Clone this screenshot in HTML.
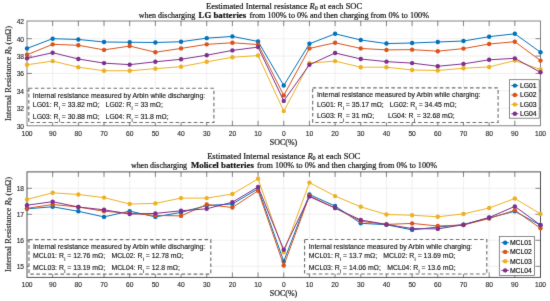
<!DOCTYPE html>
<html><head><meta charset="utf-8"><title>Estimated internal resistance</title>
<style>
html,body{margin:0;padding:0;background:#fff;}
svg{display:block;}
.tk{font-family:'Liberation Sans',sans-serif;font-size:6.7px;fill:#2a2a2a;stroke:#2a2a2a;stroke-width:0.13px;}
.an{font-family:'Liberation Sans',sans-serif;font-size:6.9px;fill:#151515;stroke:#151515;stroke-width:0.13px;}
.sub{font-size:5.3px;stroke-width:0.1px;}
.lg{font-family:'Liberation Sans',sans-serif;font-size:6.8px;fill:#0a0a0a;stroke:#0a0a0a;stroke-width:0.15px;}
.tt{font-family:'Liberation Serif',serif;font-size:7.3px;fill:#101010;stroke:#101010;stroke-width:0.17px;}
.yl{font-family:'Liberation Serif',serif;font-size:7.5px;fill:#222;stroke:#222;stroke-width:0.14px;}
</style></head><body>
<svg width="550" height="301" viewBox="0 0 550 301">
<defs><filter id="soft" x="0" y="0" width="550" height="301" filterUnits="userSpaceOnUse" color-interpolation-filters="sRGB"><feConvolveMatrix order="3" kernelMatrix="0.01 0.07 0.01 0.07 0.68 0.07 0.01 0.07 0.01" edgeMode="duplicate" preserveAlpha="true"/></filter></defs>
<rect width="550" height="301" fill="#fff"/>
<g filter="url(#soft)">
<rect width="550" height="301" fill="#fff"/>
<line x1="52.67" y1="21.0" x2="52.67" y2="125.8" stroke="#e6e6e6" stroke-width="0.6"/>
<line x1="78.35" y1="21.0" x2="78.35" y2="125.8" stroke="#e6e6e6" stroke-width="0.6"/>
<line x1="104.03" y1="21.0" x2="104.03" y2="125.8" stroke="#e6e6e6" stroke-width="0.6"/>
<line x1="129.70" y1="21.0" x2="129.70" y2="125.8" stroke="#e6e6e6" stroke-width="0.6"/>
<line x1="155.38" y1="21.0" x2="155.38" y2="125.8" stroke="#e6e6e6" stroke-width="0.6"/>
<line x1="181.05" y1="21.0" x2="181.05" y2="125.8" stroke="#e6e6e6" stroke-width="0.6"/>
<line x1="206.72" y1="21.0" x2="206.72" y2="125.8" stroke="#e6e6e6" stroke-width="0.6"/>
<line x1="232.40" y1="21.0" x2="232.40" y2="125.8" stroke="#e6e6e6" stroke-width="0.6"/>
<line x1="258.07" y1="21.0" x2="258.07" y2="125.8" stroke="#e6e6e6" stroke-width="0.6"/>
<line x1="283.75" y1="21.0" x2="283.75" y2="125.8" stroke="#e6e6e6" stroke-width="0.6"/>
<line x1="309.43" y1="21.0" x2="309.43" y2="125.8" stroke="#e6e6e6" stroke-width="0.6"/>
<line x1="335.10" y1="21.0" x2="335.10" y2="125.8" stroke="#e6e6e6" stroke-width="0.6"/>
<line x1="360.77" y1="21.0" x2="360.77" y2="125.8" stroke="#e6e6e6" stroke-width="0.6"/>
<line x1="386.45" y1="21.0" x2="386.45" y2="125.8" stroke="#e6e6e6" stroke-width="0.6"/>
<line x1="412.12" y1="21.0" x2="412.12" y2="125.8" stroke="#e6e6e6" stroke-width="0.6"/>
<line x1="437.80" y1="21.0" x2="437.80" y2="125.8" stroke="#e6e6e6" stroke-width="0.6"/>
<line x1="463.48" y1="21.0" x2="463.48" y2="125.8" stroke="#e6e6e6" stroke-width="0.6"/>
<line x1="489.15" y1="21.0" x2="489.15" y2="125.8" stroke="#e6e6e6" stroke-width="0.6"/>
<line x1="514.83" y1="21.0" x2="514.83" y2="125.8" stroke="#e6e6e6" stroke-width="0.6"/>
<line x1="27.0" y1="108.22" x2="540.5" y2="108.22" stroke="#e6e6e6" stroke-width="0.6"/>
<line x1="27.0" y1="90.83" x2="540.5" y2="90.83" stroke="#e6e6e6" stroke-width="0.6"/>
<line x1="27.0" y1="73.45" x2="540.5" y2="73.45" stroke="#e6e6e6" stroke-width="0.6"/>
<line x1="27.0" y1="56.07" x2="540.5" y2="56.07" stroke="#e6e6e6" stroke-width="0.6"/>
<line x1="27.0" y1="38.68" x2="540.5" y2="38.68" stroke="#e6e6e6" stroke-width="0.6"/>
<rect x="27.0" y="21.0" width="513.50" height="104.80" fill="none" stroke="#666666" stroke-width="0.8"/>
<line x1="52.67" y1="125.8" x2="52.67" y2="120.8" stroke="#3a3a3a" stroke-width="0.6"/>
<line x1="52.67" y1="21.0" x2="52.67" y2="26.0" stroke="#3a3a3a" stroke-width="0.6"/>
<line x1="78.35" y1="125.8" x2="78.35" y2="120.8" stroke="#3a3a3a" stroke-width="0.6"/>
<line x1="78.35" y1="21.0" x2="78.35" y2="26.0" stroke="#3a3a3a" stroke-width="0.6"/>
<line x1="104.03" y1="125.8" x2="104.03" y2="120.8" stroke="#3a3a3a" stroke-width="0.6"/>
<line x1="104.03" y1="21.0" x2="104.03" y2="26.0" stroke="#3a3a3a" stroke-width="0.6"/>
<line x1="129.70" y1="125.8" x2="129.70" y2="120.8" stroke="#3a3a3a" stroke-width="0.6"/>
<line x1="129.70" y1="21.0" x2="129.70" y2="26.0" stroke="#3a3a3a" stroke-width="0.6"/>
<line x1="155.38" y1="125.8" x2="155.38" y2="120.8" stroke="#3a3a3a" stroke-width="0.6"/>
<line x1="155.38" y1="21.0" x2="155.38" y2="26.0" stroke="#3a3a3a" stroke-width="0.6"/>
<line x1="181.05" y1="125.8" x2="181.05" y2="120.8" stroke="#3a3a3a" stroke-width="0.6"/>
<line x1="181.05" y1="21.0" x2="181.05" y2="26.0" stroke="#3a3a3a" stroke-width="0.6"/>
<line x1="206.72" y1="125.8" x2="206.72" y2="120.8" stroke="#3a3a3a" stroke-width="0.6"/>
<line x1="206.72" y1="21.0" x2="206.72" y2="26.0" stroke="#3a3a3a" stroke-width="0.6"/>
<line x1="232.40" y1="125.8" x2="232.40" y2="120.8" stroke="#3a3a3a" stroke-width="0.6"/>
<line x1="232.40" y1="21.0" x2="232.40" y2="26.0" stroke="#3a3a3a" stroke-width="0.6"/>
<line x1="258.07" y1="125.8" x2="258.07" y2="120.8" stroke="#3a3a3a" stroke-width="0.6"/>
<line x1="258.07" y1="21.0" x2="258.07" y2="26.0" stroke="#3a3a3a" stroke-width="0.6"/>
<line x1="283.75" y1="125.8" x2="283.75" y2="120.8" stroke="#3a3a3a" stroke-width="0.6"/>
<line x1="283.75" y1="21.0" x2="283.75" y2="26.0" stroke="#3a3a3a" stroke-width="0.6"/>
<line x1="309.43" y1="125.8" x2="309.43" y2="120.8" stroke="#3a3a3a" stroke-width="0.6"/>
<line x1="309.43" y1="21.0" x2="309.43" y2="26.0" stroke="#3a3a3a" stroke-width="0.6"/>
<line x1="335.10" y1="125.8" x2="335.10" y2="120.8" stroke="#3a3a3a" stroke-width="0.6"/>
<line x1="335.10" y1="21.0" x2="335.10" y2="26.0" stroke="#3a3a3a" stroke-width="0.6"/>
<line x1="360.77" y1="125.8" x2="360.77" y2="120.8" stroke="#3a3a3a" stroke-width="0.6"/>
<line x1="360.77" y1="21.0" x2="360.77" y2="26.0" stroke="#3a3a3a" stroke-width="0.6"/>
<line x1="386.45" y1="125.8" x2="386.45" y2="120.8" stroke="#3a3a3a" stroke-width="0.6"/>
<line x1="386.45" y1="21.0" x2="386.45" y2="26.0" stroke="#3a3a3a" stroke-width="0.6"/>
<line x1="412.12" y1="125.8" x2="412.12" y2="120.8" stroke="#3a3a3a" stroke-width="0.6"/>
<line x1="412.12" y1="21.0" x2="412.12" y2="26.0" stroke="#3a3a3a" stroke-width="0.6"/>
<line x1="437.80" y1="125.8" x2="437.80" y2="120.8" stroke="#3a3a3a" stroke-width="0.6"/>
<line x1="437.80" y1="21.0" x2="437.80" y2="26.0" stroke="#3a3a3a" stroke-width="0.6"/>
<line x1="463.48" y1="125.8" x2="463.48" y2="120.8" stroke="#3a3a3a" stroke-width="0.6"/>
<line x1="463.48" y1="21.0" x2="463.48" y2="26.0" stroke="#3a3a3a" stroke-width="0.6"/>
<line x1="489.15" y1="125.8" x2="489.15" y2="120.8" stroke="#3a3a3a" stroke-width="0.6"/>
<line x1="489.15" y1="21.0" x2="489.15" y2="26.0" stroke="#3a3a3a" stroke-width="0.6"/>
<line x1="514.83" y1="125.8" x2="514.83" y2="120.8" stroke="#3a3a3a" stroke-width="0.6"/>
<line x1="514.83" y1="21.0" x2="514.83" y2="26.0" stroke="#3a3a3a" stroke-width="0.6"/>
<line x1="27.0" y1="108.22" x2="32.0" y2="108.22" stroke="#3a3a3a" stroke-width="0.6"/>
<line x1="540.5" y1="108.22" x2="535.5" y2="108.22" stroke="#3a3a3a" stroke-width="0.6"/>
<line x1="27.0" y1="90.83" x2="32.0" y2="90.83" stroke="#3a3a3a" stroke-width="0.6"/>
<line x1="540.5" y1="90.83" x2="535.5" y2="90.83" stroke="#3a3a3a" stroke-width="0.6"/>
<line x1="27.0" y1="73.45" x2="32.0" y2="73.45" stroke="#3a3a3a" stroke-width="0.6"/>
<line x1="540.5" y1="73.45" x2="535.5" y2="73.45" stroke="#3a3a3a" stroke-width="0.6"/>
<line x1="27.0" y1="56.07" x2="32.0" y2="56.07" stroke="#3a3a3a" stroke-width="0.6"/>
<line x1="540.5" y1="56.07" x2="535.5" y2="56.07" stroke="#3a3a3a" stroke-width="0.6"/>
<line x1="27.0" y1="38.68" x2="32.0" y2="38.68" stroke="#3a3a3a" stroke-width="0.6"/>
<line x1="540.5" y1="38.68" x2="535.5" y2="38.68" stroke="#3a3a3a" stroke-width="0.6"/>
<text x="27.00" y="135.80" text-anchor="middle" class="tk">100</text>
<text x="52.67" y="135.80" text-anchor="middle" class="tk">90</text>
<text x="78.35" y="135.80" text-anchor="middle" class="tk">80</text>
<text x="104.03" y="135.80" text-anchor="middle" class="tk">70</text>
<text x="129.70" y="135.80" text-anchor="middle" class="tk">60</text>
<text x="155.38" y="135.80" text-anchor="middle" class="tk">50</text>
<text x="181.05" y="135.80" text-anchor="middle" class="tk">40</text>
<text x="206.72" y="135.80" text-anchor="middle" class="tk">30</text>
<text x="232.40" y="135.80" text-anchor="middle" class="tk">20</text>
<text x="258.07" y="135.80" text-anchor="middle" class="tk">10</text>
<text x="283.75" y="135.80" text-anchor="middle" class="tk">0</text>
<text x="309.43" y="135.80" text-anchor="middle" class="tk">10</text>
<text x="335.10" y="135.80" text-anchor="middle" class="tk">20</text>
<text x="360.77" y="135.80" text-anchor="middle" class="tk">30</text>
<text x="386.45" y="135.80" text-anchor="middle" class="tk">40</text>
<text x="412.12" y="135.80" text-anchor="middle" class="tk">50</text>
<text x="437.80" y="135.80" text-anchor="middle" class="tk">60</text>
<text x="463.48" y="135.80" text-anchor="middle" class="tk">70</text>
<text x="489.15" y="135.80" text-anchor="middle" class="tk">80</text>
<text x="514.83" y="135.80" text-anchor="middle" class="tk">90</text>
<text x="540.50" y="135.80" text-anchor="middle" class="tk">100</text>
<text x="24.10" y="128.50" text-anchor="end" class="tk">30</text>
<text x="24.10" y="111.12" text-anchor="end" class="tk">32</text>
<text x="24.10" y="93.73" text-anchor="end" class="tk">34</text>
<text x="24.10" y="76.35" text-anchor="end" class="tk">36</text>
<text x="24.10" y="58.97" text-anchor="end" class="tk">38</text>
<text x="24.10" y="41.58" text-anchor="end" class="tk">40</text>
<text x="24.10" y="24.20" text-anchor="end" class="tk">42</text>
<polyline points="27.00,48.42 52.67,38.68 78.35,39.47 104.03,41.99 129.70,42.25 155.38,42.51 181.05,41.73 206.72,38.16 232.40,36.42 258.07,41.46 283.75,85.50 309.43,43.81 335.10,33.82 360.77,39.99 386.45,43.55 412.12,43.03 437.80,41.99 463.48,41.03 489.15,36.68 514.83,33.82 540.50,52.24" fill="none" stroke="#0072BD" stroke-width="1.0" stroke-linejoin="round"/>
<circle cx="27.00" cy="48.42" r="2.2" fill="#0072BD"/>
<circle cx="52.67" cy="38.68" r="2.2" fill="#0072BD"/>
<circle cx="78.35" cy="39.47" r="2.2" fill="#0072BD"/>
<circle cx="104.03" cy="41.99" r="2.2" fill="#0072BD"/>
<circle cx="129.70" cy="42.25" r="2.2" fill="#0072BD"/>
<circle cx="155.38" cy="42.51" r="2.2" fill="#0072BD"/>
<circle cx="181.05" cy="41.73" r="2.2" fill="#0072BD"/>
<circle cx="206.72" cy="38.16" r="2.2" fill="#0072BD"/>
<circle cx="232.40" cy="36.42" r="2.2" fill="#0072BD"/>
<circle cx="258.07" cy="41.46" r="2.2" fill="#0072BD"/>
<circle cx="283.75" cy="85.50" r="2.2" fill="#0072BD"/>
<circle cx="309.43" cy="43.81" r="2.2" fill="#0072BD"/>
<circle cx="335.10" cy="33.82" r="2.2" fill="#0072BD"/>
<circle cx="360.77" cy="39.99" r="2.2" fill="#0072BD"/>
<circle cx="386.45" cy="43.55" r="2.2" fill="#0072BD"/>
<circle cx="412.12" cy="43.03" r="2.2" fill="#0072BD"/>
<circle cx="437.80" cy="41.99" r="2.2" fill="#0072BD"/>
<circle cx="463.48" cy="41.03" r="2.2" fill="#0072BD"/>
<circle cx="489.15" cy="36.68" r="2.2" fill="#0072BD"/>
<circle cx="514.83" cy="33.82" r="2.2" fill="#0072BD"/>
<circle cx="540.50" cy="52.24" r="2.2" fill="#0072BD"/>
<polyline points="27.00,54.76 52.67,44.33 78.35,45.29 104.03,49.90 129.70,46.07 155.38,52.24 181.05,48.42 206.72,44.33 232.40,42.77 258.07,44.51 283.75,95.40 309.43,48.42 335.10,42.77 360.77,48.42 386.45,49.90 412.12,49.63 437.80,51.20 463.48,48.59 489.15,43.99 514.83,41.73 540.50,60.59" fill="none" stroke="#D95319" stroke-width="1.0" stroke-linejoin="round"/>
<circle cx="27.00" cy="54.76" r="2.2" fill="#D95319"/>
<circle cx="52.67" cy="44.33" r="2.2" fill="#D95319"/>
<circle cx="78.35" cy="45.29" r="2.2" fill="#D95319"/>
<circle cx="104.03" cy="49.90" r="2.2" fill="#D95319"/>
<circle cx="129.70" cy="46.07" r="2.2" fill="#D95319"/>
<circle cx="155.38" cy="52.24" r="2.2" fill="#D95319"/>
<circle cx="181.05" cy="48.42" r="2.2" fill="#D95319"/>
<circle cx="206.72" cy="44.33" r="2.2" fill="#D95319"/>
<circle cx="232.40" cy="42.77" r="2.2" fill="#D95319"/>
<circle cx="258.07" cy="44.51" r="2.2" fill="#D95319"/>
<circle cx="283.75" cy="95.40" r="2.2" fill="#D95319"/>
<circle cx="309.43" cy="48.42" r="2.2" fill="#D95319"/>
<circle cx="335.10" cy="42.77" r="2.2" fill="#D95319"/>
<circle cx="360.77" cy="48.42" r="2.2" fill="#D95319"/>
<circle cx="386.45" cy="49.90" r="2.2" fill="#D95319"/>
<circle cx="412.12" cy="49.63" r="2.2" fill="#D95319"/>
<circle cx="437.80" cy="51.20" r="2.2" fill="#D95319"/>
<circle cx="463.48" cy="48.59" r="2.2" fill="#D95319"/>
<circle cx="489.15" cy="43.99" r="2.2" fill="#D95319"/>
<circle cx="514.83" cy="41.73" r="2.2" fill="#D95319"/>
<circle cx="540.50" cy="60.59" r="2.2" fill="#D95319"/>
<polyline points="27.00,64.76 52.67,61.11 78.35,67.19 104.03,70.76 129.70,70.76 155.38,68.67 181.05,66.67 206.72,61.80 232.40,57.28 258.07,55.55 283.75,111.10 309.43,63.11 335.10,61.11 360.77,67.19 386.45,67.19 412.12,69.97 437.80,70.49 463.48,68.23 489.15,66.93 514.83,60.59 540.50,69.54" fill="none" stroke="#EDB120" stroke-width="1.0" stroke-linejoin="round"/>
<circle cx="27.00" cy="64.76" r="2.2" fill="#EDB120"/>
<circle cx="52.67" cy="61.11" r="2.2" fill="#EDB120"/>
<circle cx="78.35" cy="67.19" r="2.2" fill="#EDB120"/>
<circle cx="104.03" cy="70.76" r="2.2" fill="#EDB120"/>
<circle cx="129.70" cy="70.76" r="2.2" fill="#EDB120"/>
<circle cx="155.38" cy="68.67" r="2.2" fill="#EDB120"/>
<circle cx="181.05" cy="66.67" r="2.2" fill="#EDB120"/>
<circle cx="206.72" cy="61.80" r="2.2" fill="#EDB120"/>
<circle cx="232.40" cy="57.28" r="2.2" fill="#EDB120"/>
<circle cx="258.07" cy="55.55" r="2.2" fill="#EDB120"/>
<circle cx="283.75" cy="111.10" r="2.2" fill="#EDB120"/>
<circle cx="309.43" cy="63.11" r="2.2" fill="#EDB120"/>
<circle cx="335.10" cy="61.11" r="2.2" fill="#EDB120"/>
<circle cx="360.77" cy="67.19" r="2.2" fill="#EDB120"/>
<circle cx="386.45" cy="67.19" r="2.2" fill="#EDB120"/>
<circle cx="412.12" cy="69.97" r="2.2" fill="#EDB120"/>
<circle cx="437.80" cy="70.49" r="2.2" fill="#EDB120"/>
<circle cx="463.48" cy="68.23" r="2.2" fill="#EDB120"/>
<circle cx="489.15" cy="66.93" r="2.2" fill="#EDB120"/>
<circle cx="514.83" cy="60.59" r="2.2" fill="#EDB120"/>
<circle cx="540.50" cy="69.54" r="2.2" fill="#EDB120"/>
<polyline points="27.00,58.33 52.67,52.68 78.35,59.02 104.03,63.11 129.70,64.67 155.38,61.80 181.05,59.28 206.72,55.20 232.40,50.42 258.07,47.11 283.75,100.90 309.43,64.76 335.10,52.94 360.77,59.02 386.45,61.63 412.12,63.11 437.80,66.24 463.48,63.89 489.15,59.80 514.83,58.33 540.50,72.32" fill="none" stroke="#7E2F8E" stroke-width="1.0" stroke-linejoin="round"/>
<circle cx="27.00" cy="58.33" r="2.2" fill="#7E2F8E"/>
<circle cx="52.67" cy="52.68" r="2.2" fill="#7E2F8E"/>
<circle cx="78.35" cy="59.02" r="2.2" fill="#7E2F8E"/>
<circle cx="104.03" cy="63.11" r="2.2" fill="#7E2F8E"/>
<circle cx="129.70" cy="64.67" r="2.2" fill="#7E2F8E"/>
<circle cx="155.38" cy="61.80" r="2.2" fill="#7E2F8E"/>
<circle cx="181.05" cy="59.28" r="2.2" fill="#7E2F8E"/>
<circle cx="206.72" cy="55.20" r="2.2" fill="#7E2F8E"/>
<circle cx="232.40" cy="50.42" r="2.2" fill="#7E2F8E"/>
<circle cx="258.07" cy="47.11" r="2.2" fill="#7E2F8E"/>
<circle cx="283.75" cy="100.90" r="2.2" fill="#7E2F8E"/>
<circle cx="309.43" cy="64.76" r="2.2" fill="#7E2F8E"/>
<circle cx="335.10" cy="52.94" r="2.2" fill="#7E2F8E"/>
<circle cx="360.77" cy="59.02" r="2.2" fill="#7E2F8E"/>
<circle cx="386.45" cy="61.63" r="2.2" fill="#7E2F8E"/>
<circle cx="412.12" cy="63.11" r="2.2" fill="#7E2F8E"/>
<circle cx="437.80" cy="66.24" r="2.2" fill="#7E2F8E"/>
<circle cx="463.48" cy="63.89" r="2.2" fill="#7E2F8E"/>
<circle cx="489.15" cy="59.80" r="2.2" fill="#7E2F8E"/>
<circle cx="514.83" cy="58.33" r="2.2" fill="#7E2F8E"/>
<circle cx="540.50" cy="72.32" r="2.2" fill="#7E2F8E"/>
<rect x="28.8" y="88.2" width="185.10" height="34.30" fill="#fff" stroke="#707070" stroke-width="1.15" stroke-dasharray="3.6 2.45"/>
<text x="32.80" y="97.50" class="an">Internal resistance measured by Arbin while discharging:</text>
<text x="32.80" y="106.70" class="an">LG01: R<tspan class="sub" dy="3.2" dx="0.2">i</tspan><tspan dy="-3.2"> = 33.82 mΩ;</tspan></text>
<text x="105.60" y="106.70" class="an">LG02: R<tspan class="sub" dy="3.2" dx="0.2">i</tspan><tspan dy="-3.2"> = 33 mΩ;</tspan></text>
<text x="32.80" y="118.50" class="an">LG03: R<tspan class="sub" dy="3.2" dx="0.2">i</tspan><tspan dy="-3.2"> = 30.88 mΩ;</tspan></text>
<text x="105.60" y="118.50" class="an">LG04: R<tspan class="sub" dy="3.2" dx="0.2">i</tspan><tspan dy="-3.2"> = 31.8 mΩ;</tspan></text>
<rect x="312.7" y="87.9" width="185.40" height="34.60" fill="#fff" stroke="#707070" stroke-width="1.15" stroke-dasharray="3.6 2.45"/>
<text x="316.90" y="97.40" class="an">Internal resistance measured by Arbin while charging:</text>
<text x="316.90" y="106.60" class="an">LG01: R<tspan class="sub" dy="3.2" dx="0.2">i</tspan><tspan dy="-3.2"> = 35.17 mΩ;</tspan></text>
<text x="389.70" y="106.60" class="an">LG02: R<tspan class="sub" dy="3.2" dx="0.2">i</tspan><tspan dy="-3.2"> = 34.45 mΩ;</tspan></text>
<text x="316.90" y="118.40" class="an">LG03: R<tspan class="sub" dy="3.2" dx="0.2">i</tspan><tspan dy="-3.2"> = 31 mΩ;</tspan></text>
<text x="387.90" y="118.40" class="an">LG04: R<tspan class="sub" dy="3.2" dx="0.2">i</tspan><tspan dy="-3.2"> = 32.68 mΩ;</tspan></text>
<rect x="509.5" y="79.7" width="29.70" height="38.50" fill="#fff" stroke="#5a5a5a" stroke-width="0.7"/>
<line x1="511.4" y1="85.6" x2="518.3" y2="85.6" stroke="#0072BD" stroke-width="1.0"/>
<circle cx="514.85" cy="85.6" r="2.2" fill="#0072BD"/>
<text x="519.9" y="88.00" class="lg">LG01</text>
<line x1="511.4" y1="95.0" x2="518.3" y2="95.0" stroke="#D95319" stroke-width="1.0"/>
<circle cx="514.85" cy="95.0" r="2.2" fill="#D95319"/>
<text x="519.9" y="97.40" class="lg">LG02</text>
<line x1="511.4" y1="104.4" x2="518.3" y2="104.4" stroke="#EDB120" stroke-width="1.0"/>
<circle cx="514.85" cy="104.4" r="2.2" fill="#EDB120"/>
<text x="519.9" y="106.80" class="lg">LG03</text>
<line x1="511.4" y1="113.8" x2="518.3" y2="113.8" stroke="#7E2F8E" stroke-width="1.0"/>
<circle cx="514.85" cy="113.8" r="2.2" fill="#7E2F8E"/>
<text x="519.9" y="116.20" class="lg">LG04</text>
<text x="206.0" y="9" class="tt" textLength="156.1" lengthAdjust="spacingAndGlyphs">Eestimated Internal resistance <tspan font-style="italic">R</tspan><tspan font-size="5.2px" dy="1.3">0</tspan><tspan dy="-1.3"> at each SOC</tspan></text>
<text x="138.7" y="18" class="tt" textLength="56.6" lengthAdjust="spacingAndGlyphs">when discharging</text>
<text x="198.6" y="18" class="tt" font-weight="bold" textLength="47.6" lengthAdjust="spacingAndGlyphs">LG batteries</text>
<text x="249.5" y="18" class="tt" textLength="179.5" lengthAdjust="spacingAndGlyphs">from 100% to 0% and then charging from 0% to 100%</text>
<text x="269.8" y="145.0" class="tt" textLength="27.4" lengthAdjust="spacingAndGlyphs">SOC(%)</text>
<text transform="translate(11.0,121.0) rotate(-90)" class="yl" textLength="95" lengthAdjust="spacingAndGlyphs">Internal Resistance <tspan font-style="italic">R</tspan><tspan font-size="5.2px" dy="1.3">0</tspan><tspan dy="-1.3"> (mΩ)</tspan></text>
<line x1="52.67" y1="171.9" x2="52.67" y2="277.4" stroke="#e6e6e6" stroke-width="0.6"/>
<line x1="78.35" y1="171.9" x2="78.35" y2="277.4" stroke="#e6e6e6" stroke-width="0.6"/>
<line x1="104.03" y1="171.9" x2="104.03" y2="277.4" stroke="#e6e6e6" stroke-width="0.6"/>
<line x1="129.70" y1="171.9" x2="129.70" y2="277.4" stroke="#e6e6e6" stroke-width="0.6"/>
<line x1="155.38" y1="171.9" x2="155.38" y2="277.4" stroke="#e6e6e6" stroke-width="0.6"/>
<line x1="181.05" y1="171.9" x2="181.05" y2="277.4" stroke="#e6e6e6" stroke-width="0.6"/>
<line x1="206.72" y1="171.9" x2="206.72" y2="277.4" stroke="#e6e6e6" stroke-width="0.6"/>
<line x1="232.40" y1="171.9" x2="232.40" y2="277.4" stroke="#e6e6e6" stroke-width="0.6"/>
<line x1="258.07" y1="171.9" x2="258.07" y2="277.4" stroke="#e6e6e6" stroke-width="0.6"/>
<line x1="283.75" y1="171.9" x2="283.75" y2="277.4" stroke="#e6e6e6" stroke-width="0.6"/>
<line x1="309.43" y1="171.9" x2="309.43" y2="277.4" stroke="#e6e6e6" stroke-width="0.6"/>
<line x1="335.10" y1="171.9" x2="335.10" y2="277.4" stroke="#e6e6e6" stroke-width="0.6"/>
<line x1="360.77" y1="171.9" x2="360.77" y2="277.4" stroke="#e6e6e6" stroke-width="0.6"/>
<line x1="386.45" y1="171.9" x2="386.45" y2="277.4" stroke="#e6e6e6" stroke-width="0.6"/>
<line x1="412.12" y1="171.9" x2="412.12" y2="277.4" stroke="#e6e6e6" stroke-width="0.6"/>
<line x1="437.80" y1="171.9" x2="437.80" y2="277.4" stroke="#e6e6e6" stroke-width="0.6"/>
<line x1="463.48" y1="171.9" x2="463.48" y2="277.4" stroke="#e6e6e6" stroke-width="0.6"/>
<line x1="489.15" y1="171.9" x2="489.15" y2="277.4" stroke="#e6e6e6" stroke-width="0.6"/>
<line x1="514.83" y1="171.9" x2="514.83" y2="277.4" stroke="#e6e6e6" stroke-width="0.6"/>
<line x1="27.0" y1="266.30" x2="540.5" y2="266.30" stroke="#e6e6e6" stroke-width="0.6"/>
<line x1="27.0" y1="240.30" x2="540.5" y2="240.30" stroke="#e6e6e6" stroke-width="0.6"/>
<line x1="27.0" y1="214.30" x2="540.5" y2="214.30" stroke="#e6e6e6" stroke-width="0.6"/>
<line x1="27.0" y1="188.30" x2="540.5" y2="188.30" stroke="#e6e6e6" stroke-width="0.6"/>
<rect x="27.0" y="171.9" width="513.50" height="105.50" fill="none" stroke="#484848" stroke-width="0.95"/>
<line x1="52.67" y1="277.4" x2="52.67" y2="272.4" stroke="#3a3a3a" stroke-width="0.6"/>
<line x1="52.67" y1="171.9" x2="52.67" y2="176.9" stroke="#3a3a3a" stroke-width="0.6"/>
<line x1="78.35" y1="277.4" x2="78.35" y2="272.4" stroke="#3a3a3a" stroke-width="0.6"/>
<line x1="78.35" y1="171.9" x2="78.35" y2="176.9" stroke="#3a3a3a" stroke-width="0.6"/>
<line x1="104.03" y1="277.4" x2="104.03" y2="272.4" stroke="#3a3a3a" stroke-width="0.6"/>
<line x1="104.03" y1="171.9" x2="104.03" y2="176.9" stroke="#3a3a3a" stroke-width="0.6"/>
<line x1="129.70" y1="277.4" x2="129.70" y2="272.4" stroke="#3a3a3a" stroke-width="0.6"/>
<line x1="129.70" y1="171.9" x2="129.70" y2="176.9" stroke="#3a3a3a" stroke-width="0.6"/>
<line x1="155.38" y1="277.4" x2="155.38" y2="272.4" stroke="#3a3a3a" stroke-width="0.6"/>
<line x1="155.38" y1="171.9" x2="155.38" y2="176.9" stroke="#3a3a3a" stroke-width="0.6"/>
<line x1="181.05" y1="277.4" x2="181.05" y2="272.4" stroke="#3a3a3a" stroke-width="0.6"/>
<line x1="181.05" y1="171.9" x2="181.05" y2="176.9" stroke="#3a3a3a" stroke-width="0.6"/>
<line x1="206.72" y1="277.4" x2="206.72" y2="272.4" stroke="#3a3a3a" stroke-width="0.6"/>
<line x1="206.72" y1="171.9" x2="206.72" y2="176.9" stroke="#3a3a3a" stroke-width="0.6"/>
<line x1="232.40" y1="277.4" x2="232.40" y2="272.4" stroke="#3a3a3a" stroke-width="0.6"/>
<line x1="232.40" y1="171.9" x2="232.40" y2="176.9" stroke="#3a3a3a" stroke-width="0.6"/>
<line x1="258.07" y1="277.4" x2="258.07" y2="272.4" stroke="#3a3a3a" stroke-width="0.6"/>
<line x1="258.07" y1="171.9" x2="258.07" y2="176.9" stroke="#3a3a3a" stroke-width="0.6"/>
<line x1="283.75" y1="277.4" x2="283.75" y2="272.4" stroke="#3a3a3a" stroke-width="0.6"/>
<line x1="283.75" y1="171.9" x2="283.75" y2="176.9" stroke="#3a3a3a" stroke-width="0.6"/>
<line x1="309.43" y1="277.4" x2="309.43" y2="272.4" stroke="#3a3a3a" stroke-width="0.6"/>
<line x1="309.43" y1="171.9" x2="309.43" y2="176.9" stroke="#3a3a3a" stroke-width="0.6"/>
<line x1="335.10" y1="277.4" x2="335.10" y2="272.4" stroke="#3a3a3a" stroke-width="0.6"/>
<line x1="335.10" y1="171.9" x2="335.10" y2="176.9" stroke="#3a3a3a" stroke-width="0.6"/>
<line x1="360.77" y1="277.4" x2="360.77" y2="272.4" stroke="#3a3a3a" stroke-width="0.6"/>
<line x1="360.77" y1="171.9" x2="360.77" y2="176.9" stroke="#3a3a3a" stroke-width="0.6"/>
<line x1="386.45" y1="277.4" x2="386.45" y2="272.4" stroke="#3a3a3a" stroke-width="0.6"/>
<line x1="386.45" y1="171.9" x2="386.45" y2="176.9" stroke="#3a3a3a" stroke-width="0.6"/>
<line x1="412.12" y1="277.4" x2="412.12" y2="272.4" stroke="#3a3a3a" stroke-width="0.6"/>
<line x1="412.12" y1="171.9" x2="412.12" y2="176.9" stroke="#3a3a3a" stroke-width="0.6"/>
<line x1="437.80" y1="277.4" x2="437.80" y2="272.4" stroke="#3a3a3a" stroke-width="0.6"/>
<line x1="437.80" y1="171.9" x2="437.80" y2="176.9" stroke="#3a3a3a" stroke-width="0.6"/>
<line x1="463.48" y1="277.4" x2="463.48" y2="272.4" stroke="#3a3a3a" stroke-width="0.6"/>
<line x1="463.48" y1="171.9" x2="463.48" y2="176.9" stroke="#3a3a3a" stroke-width="0.6"/>
<line x1="489.15" y1="277.4" x2="489.15" y2="272.4" stroke="#3a3a3a" stroke-width="0.6"/>
<line x1="489.15" y1="171.9" x2="489.15" y2="176.9" stroke="#3a3a3a" stroke-width="0.6"/>
<line x1="514.83" y1="277.4" x2="514.83" y2="272.4" stroke="#3a3a3a" stroke-width="0.6"/>
<line x1="514.83" y1="171.9" x2="514.83" y2="176.9" stroke="#3a3a3a" stroke-width="0.6"/>
<line x1="27.0" y1="266.30" x2="32.0" y2="266.30" stroke="#3a3a3a" stroke-width="0.6"/>
<line x1="540.5" y1="266.30" x2="535.5" y2="266.30" stroke="#3a3a3a" stroke-width="0.6"/>
<line x1="27.0" y1="240.30" x2="32.0" y2="240.30" stroke="#3a3a3a" stroke-width="0.6"/>
<line x1="540.5" y1="240.30" x2="535.5" y2="240.30" stroke="#3a3a3a" stroke-width="0.6"/>
<line x1="27.0" y1="214.30" x2="32.0" y2="214.30" stroke="#3a3a3a" stroke-width="0.6"/>
<line x1="540.5" y1="214.30" x2="535.5" y2="214.30" stroke="#3a3a3a" stroke-width="0.6"/>
<line x1="27.0" y1="188.30" x2="32.0" y2="188.30" stroke="#3a3a3a" stroke-width="0.6"/>
<line x1="540.5" y1="188.30" x2="535.5" y2="188.30" stroke="#3a3a3a" stroke-width="0.6"/>
<text x="27.00" y="287.40" text-anchor="middle" class="tk">100</text>
<text x="52.67" y="287.40" text-anchor="middle" class="tk">90</text>
<text x="78.35" y="287.40" text-anchor="middle" class="tk">80</text>
<text x="104.03" y="287.40" text-anchor="middle" class="tk">70</text>
<text x="129.70" y="287.40" text-anchor="middle" class="tk">60</text>
<text x="155.38" y="287.40" text-anchor="middle" class="tk">50</text>
<text x="181.05" y="287.40" text-anchor="middle" class="tk">40</text>
<text x="206.72" y="287.40" text-anchor="middle" class="tk">30</text>
<text x="232.40" y="287.40" text-anchor="middle" class="tk">20</text>
<text x="258.07" y="287.40" text-anchor="middle" class="tk">10</text>
<text x="283.75" y="287.40" text-anchor="middle" class="tk">0</text>
<text x="309.43" y="287.40" text-anchor="middle" class="tk">10</text>
<text x="335.10" y="287.40" text-anchor="middle" class="tk">20</text>
<text x="360.77" y="287.40" text-anchor="middle" class="tk">30</text>
<text x="386.45" y="287.40" text-anchor="middle" class="tk">40</text>
<text x="412.12" y="287.40" text-anchor="middle" class="tk">50</text>
<text x="437.80" y="287.40" text-anchor="middle" class="tk">60</text>
<text x="463.48" y="287.40" text-anchor="middle" class="tk">70</text>
<text x="489.15" y="287.40" text-anchor="middle" class="tk">80</text>
<text x="514.83" y="287.40" text-anchor="middle" class="tk">90</text>
<text x="540.50" y="287.40" text-anchor="middle" class="tk">100</text>
<text x="24.10" y="269.20" text-anchor="end" class="tk">15</text>
<text x="24.10" y="243.20" text-anchor="end" class="tk">16</text>
<text x="24.10" y="217.20" text-anchor="end" class="tk">17</text>
<text x="24.10" y="191.20" text-anchor="end" class="tk">18</text>
<polyline points="27.00,208.80 52.67,206.80 78.35,211.30 104.03,216.90 129.70,211.10 155.38,216.90 181.05,212.40 206.72,205.50 232.40,204.00 258.07,188.70 283.75,261.40 309.43,194.50 335.10,206.00 360.77,223.30 386.45,224.70 412.12,229.90 437.80,227.00 463.48,224.70 489.15,217.80 514.83,211.30 540.50,225.30" fill="none" stroke="#0072BD" stroke-width="1.0" stroke-linejoin="round"/>
<circle cx="27.00" cy="208.80" r="2.2" fill="#0072BD"/>
<circle cx="52.67" cy="206.80" r="2.2" fill="#0072BD"/>
<circle cx="78.35" cy="211.30" r="2.2" fill="#0072BD"/>
<circle cx="104.03" cy="216.90" r="2.2" fill="#0072BD"/>
<circle cx="129.70" cy="211.10" r="2.2" fill="#0072BD"/>
<circle cx="155.38" cy="216.90" r="2.2" fill="#0072BD"/>
<circle cx="181.05" cy="212.40" r="2.2" fill="#0072BD"/>
<circle cx="206.72" cy="205.50" r="2.2" fill="#0072BD"/>
<circle cx="232.40" cy="204.00" r="2.2" fill="#0072BD"/>
<circle cx="258.07" cy="188.70" r="2.2" fill="#0072BD"/>
<circle cx="283.75" cy="261.40" r="2.2" fill="#0072BD"/>
<circle cx="309.43" cy="194.50" r="2.2" fill="#0072BD"/>
<circle cx="335.10" cy="206.00" r="2.2" fill="#0072BD"/>
<circle cx="360.77" cy="223.30" r="2.2" fill="#0072BD"/>
<circle cx="386.45" cy="224.70" r="2.2" fill="#0072BD"/>
<circle cx="412.12" cy="229.90" r="2.2" fill="#0072BD"/>
<circle cx="437.80" cy="227.00" r="2.2" fill="#0072BD"/>
<circle cx="463.48" cy="224.70" r="2.2" fill="#0072BD"/>
<circle cx="489.15" cy="217.80" r="2.2" fill="#0072BD"/>
<circle cx="514.83" cy="211.30" r="2.2" fill="#0072BD"/>
<circle cx="540.50" cy="225.30" r="2.2" fill="#0072BD"/>
<polyline points="27.00,208.30 52.67,204.50 78.35,207.00 104.03,211.30 129.70,213.10 155.38,215.40 181.05,215.90 206.72,204.50 232.40,207.50 258.07,190.70 283.75,265.50 309.43,195.80 335.10,208.00 360.77,221.30 386.45,224.40 412.12,223.40 437.80,226.00 463.48,225.00 489.15,218.50 514.83,210.30 540.50,228.30" fill="none" stroke="#D95319" stroke-width="1.0" stroke-linejoin="round"/>
<circle cx="27.00" cy="208.30" r="2.2" fill="#D95319"/>
<circle cx="52.67" cy="204.50" r="2.2" fill="#D95319"/>
<circle cx="78.35" cy="207.00" r="2.2" fill="#D95319"/>
<circle cx="104.03" cy="211.30" r="2.2" fill="#D95319"/>
<circle cx="129.70" cy="213.10" r="2.2" fill="#D95319"/>
<circle cx="155.38" cy="215.40" r="2.2" fill="#D95319"/>
<circle cx="181.05" cy="215.90" r="2.2" fill="#D95319"/>
<circle cx="206.72" cy="204.50" r="2.2" fill="#D95319"/>
<circle cx="232.40" cy="207.50" r="2.2" fill="#D95319"/>
<circle cx="258.07" cy="190.70" r="2.2" fill="#D95319"/>
<circle cx="283.75" cy="265.50" r="2.2" fill="#D95319"/>
<circle cx="309.43" cy="195.80" r="2.2" fill="#D95319"/>
<circle cx="335.10" cy="208.00" r="2.2" fill="#D95319"/>
<circle cx="360.77" cy="221.30" r="2.2" fill="#D95319"/>
<circle cx="386.45" cy="224.40" r="2.2" fill="#D95319"/>
<circle cx="412.12" cy="223.40" r="2.2" fill="#D95319"/>
<circle cx="437.80" cy="226.00" r="2.2" fill="#D95319"/>
<circle cx="463.48" cy="225.00" r="2.2" fill="#D95319"/>
<circle cx="489.15" cy="218.50" r="2.2" fill="#D95319"/>
<circle cx="514.83" cy="210.30" r="2.2" fill="#D95319"/>
<circle cx="540.50" cy="228.30" r="2.2" fill="#D95319"/>
<polyline points="27.00,199.40 52.67,192.80 78.35,194.50 104.03,197.60 129.70,204.00 155.38,203.40 181.05,198.10 206.72,198.10 232.40,194.00 258.07,178.80 283.75,252.20 309.43,182.60 335.10,196.10 360.77,206.80 386.45,214.50 412.12,215.20 437.80,216.80 463.48,213.90 489.15,208.00 514.83,198.50 540.50,213.90" fill="none" stroke="#EDB120" stroke-width="1.0" stroke-linejoin="round"/>
<circle cx="27.00" cy="199.40" r="2.2" fill="#EDB120"/>
<circle cx="52.67" cy="192.80" r="2.2" fill="#EDB120"/>
<circle cx="78.35" cy="194.50" r="2.2" fill="#EDB120"/>
<circle cx="104.03" cy="197.60" r="2.2" fill="#EDB120"/>
<circle cx="129.70" cy="204.00" r="2.2" fill="#EDB120"/>
<circle cx="155.38" cy="203.40" r="2.2" fill="#EDB120"/>
<circle cx="181.05" cy="198.10" r="2.2" fill="#EDB120"/>
<circle cx="206.72" cy="198.10" r="2.2" fill="#EDB120"/>
<circle cx="232.40" cy="194.00" r="2.2" fill="#EDB120"/>
<circle cx="258.07" cy="178.80" r="2.2" fill="#EDB120"/>
<circle cx="283.75" cy="252.20" r="2.2" fill="#EDB120"/>
<circle cx="309.43" cy="182.60" r="2.2" fill="#EDB120"/>
<circle cx="335.10" cy="196.10" r="2.2" fill="#EDB120"/>
<circle cx="360.77" cy="206.80" r="2.2" fill="#EDB120"/>
<circle cx="386.45" cy="214.50" r="2.2" fill="#EDB120"/>
<circle cx="412.12" cy="215.20" r="2.2" fill="#EDB120"/>
<circle cx="437.80" cy="216.80" r="2.2" fill="#EDB120"/>
<circle cx="463.48" cy="213.90" r="2.2" fill="#EDB120"/>
<circle cx="489.15" cy="208.00" r="2.2" fill="#EDB120"/>
<circle cx="514.83" cy="198.50" r="2.2" fill="#EDB120"/>
<circle cx="540.50" cy="213.90" r="2.2" fill="#EDB120"/>
<polyline points="27.00,205.20 52.67,201.70 78.35,207.00 104.03,209.80 129.70,214.10 155.38,213.40 181.05,210.80 206.72,208.80 232.40,202.20 258.07,186.90 283.75,249.70 309.43,196.60 335.10,208.00 360.77,220.00 386.45,224.40 412.12,228.60 437.80,228.90 463.48,224.70 489.15,217.50 514.83,206.40 540.50,225.00" fill="none" stroke="#7E2F8E" stroke-width="1.0" stroke-linejoin="round"/>
<circle cx="27.00" cy="205.20" r="2.2" fill="#7E2F8E"/>
<circle cx="52.67" cy="201.70" r="2.2" fill="#7E2F8E"/>
<circle cx="78.35" cy="207.00" r="2.2" fill="#7E2F8E"/>
<circle cx="104.03" cy="209.80" r="2.2" fill="#7E2F8E"/>
<circle cx="129.70" cy="214.10" r="2.2" fill="#7E2F8E"/>
<circle cx="155.38" cy="213.40" r="2.2" fill="#7E2F8E"/>
<circle cx="181.05" cy="210.80" r="2.2" fill="#7E2F8E"/>
<circle cx="206.72" cy="208.80" r="2.2" fill="#7E2F8E"/>
<circle cx="232.40" cy="202.20" r="2.2" fill="#7E2F8E"/>
<circle cx="258.07" cy="186.90" r="2.2" fill="#7E2F8E"/>
<circle cx="283.75" cy="249.70" r="2.2" fill="#7E2F8E"/>
<circle cx="309.43" cy="196.60" r="2.2" fill="#7E2F8E"/>
<circle cx="335.10" cy="208.00" r="2.2" fill="#7E2F8E"/>
<circle cx="360.77" cy="220.00" r="2.2" fill="#7E2F8E"/>
<circle cx="386.45" cy="224.40" r="2.2" fill="#7E2F8E"/>
<circle cx="412.12" cy="228.60" r="2.2" fill="#7E2F8E"/>
<circle cx="437.80" cy="228.90" r="2.2" fill="#7E2F8E"/>
<circle cx="463.48" cy="224.70" r="2.2" fill="#7E2F8E"/>
<circle cx="489.15" cy="217.50" r="2.2" fill="#7E2F8E"/>
<circle cx="514.83" cy="206.40" r="2.2" fill="#7E2F8E"/>
<circle cx="540.50" cy="225.00" r="2.2" fill="#7E2F8E"/>
<rect x="29.0" y="239.6" width="181.80" height="34.50" fill="#fff" stroke="#707070" stroke-width="1.15" stroke-dasharray="3.6 2.45"/>
<text x="32.90" y="248.80" class="an">Internal resistance measured by Arbin while discharging:</text>
<text x="32.90" y="258.00" class="an">MCL01: R<tspan class="sub" dy="3.2" dx="0.2">i</tspan><tspan dy="-3.2"> = 12.76 mΩ;</tspan></text>
<text x="111.40" y="258.00" class="an">MCL02: R<tspan class="sub" dy="3.2" dx="0.2">i</tspan><tspan dy="-3.2"> = 12.78 mΩ;</tspan></text>
<text x="32.90" y="269.90" class="an">MCL03: R<tspan class="sub" dy="3.2" dx="0.2">i</tspan><tspan dy="-3.2"> = 13.19 mΩ;</tspan></text>
<text x="111.40" y="269.90" class="an">MCL04: R<tspan class="sub" dy="3.2" dx="0.2">i</tspan><tspan dy="-3.2"> = 12.8 mΩ;</tspan></text>
<rect x="304.6" y="239.5" width="182.20" height="34.50" fill="#fff" stroke="#707070" stroke-width="1.15" stroke-dasharray="3.6 2.45"/>
<text x="308.70" y="248.80" class="an">Internal resistance measured by Arbin while charging:</text>
<text x="308.70" y="258.00" class="an">MCL01: R<tspan class="sub" dy="3.2" dx="0.2">i</tspan><tspan dy="-3.2"> = 13.7 mΩ;</tspan></text>
<text x="383.30" y="258.00" class="an">MCL02: R<tspan class="sub" dy="3.2" dx="0.2">i</tspan><tspan dy="-3.2"> = 13.69 mΩ;</tspan></text>
<text x="308.70" y="269.90" class="an">MCL03: R<tspan class="sub" dy="3.2" dx="0.2">i</tspan><tspan dy="-3.2"> = 14.06 mΩ;</tspan></text>
<text x="387.20" y="269.90" class="an">MCL04: R<tspan class="sub" dy="3.2" dx="0.2">i</tspan><tspan dy="-3.2"> = 13.6 mΩ;</tspan></text>
<rect x="499.3" y="236.6" width="35.30" height="38.90" fill="#fff" stroke="#5a5a5a" stroke-width="0.7"/>
<line x1="501.4" y1="242.7" x2="508.9" y2="242.7" stroke="#0072BD" stroke-width="1.0"/>
<circle cx="505.15" cy="242.7" r="2.2" fill="#0072BD"/>
<text x="509.9" y="245.10" class="lg">MCL01</text>
<line x1="501.4" y1="251.9" x2="508.9" y2="251.9" stroke="#D95319" stroke-width="1.0"/>
<circle cx="505.15" cy="251.9" r="2.2" fill="#D95319"/>
<text x="509.9" y="254.30" class="lg">MCL02</text>
<line x1="501.4" y1="261.2" x2="508.9" y2="261.2" stroke="#EDB120" stroke-width="1.0"/>
<circle cx="505.15" cy="261.2" r="2.2" fill="#EDB120"/>
<text x="509.9" y="263.60" class="lg">MCL03</text>
<line x1="501.4" y1="270.4" x2="508.9" y2="270.4" stroke="#7E2F8E" stroke-width="1.0"/>
<circle cx="505.15" cy="270.4" r="2.2" fill="#7E2F8E"/>
<text x="509.9" y="272.80" class="lg">MCL04</text>
<text x="207.2" y="159" class="tt" textLength="153" lengthAdjust="spacingAndGlyphs">Estimated Internal resistance <tspan font-style="italic">R</tspan><tspan font-size="5.2px" dy="1.3">0</tspan><tspan dy="-1.3"> at each SOC</tspan></text>
<text x="130.9" y="168" class="tt" textLength="56.2" lengthAdjust="spacingAndGlyphs">when discharging</text>
<text x="190.9" y="168" class="tt" font-weight="bold" textLength="63.0" lengthAdjust="spacingAndGlyphs">Molicel batteries</text>
<text x="257.0" y="168" class="tt" textLength="180.0" lengthAdjust="spacingAndGlyphs">from 100% to 0% and then charging from 0% to 100%</text>
<text x="269.8" y="296.3" class="tt" textLength="27.4" lengthAdjust="spacingAndGlyphs">SOC(%)</text>
<text transform="translate(11.0,272.0) rotate(-90)" class="yl" textLength="95" lengthAdjust="spacingAndGlyphs">Internal Resistance <tspan font-style="italic">R</tspan><tspan font-size="5.2px" dy="1.3">0</tspan><tspan dy="-1.3"> (mΩ)</tspan></text>
</g></svg></body></html>
